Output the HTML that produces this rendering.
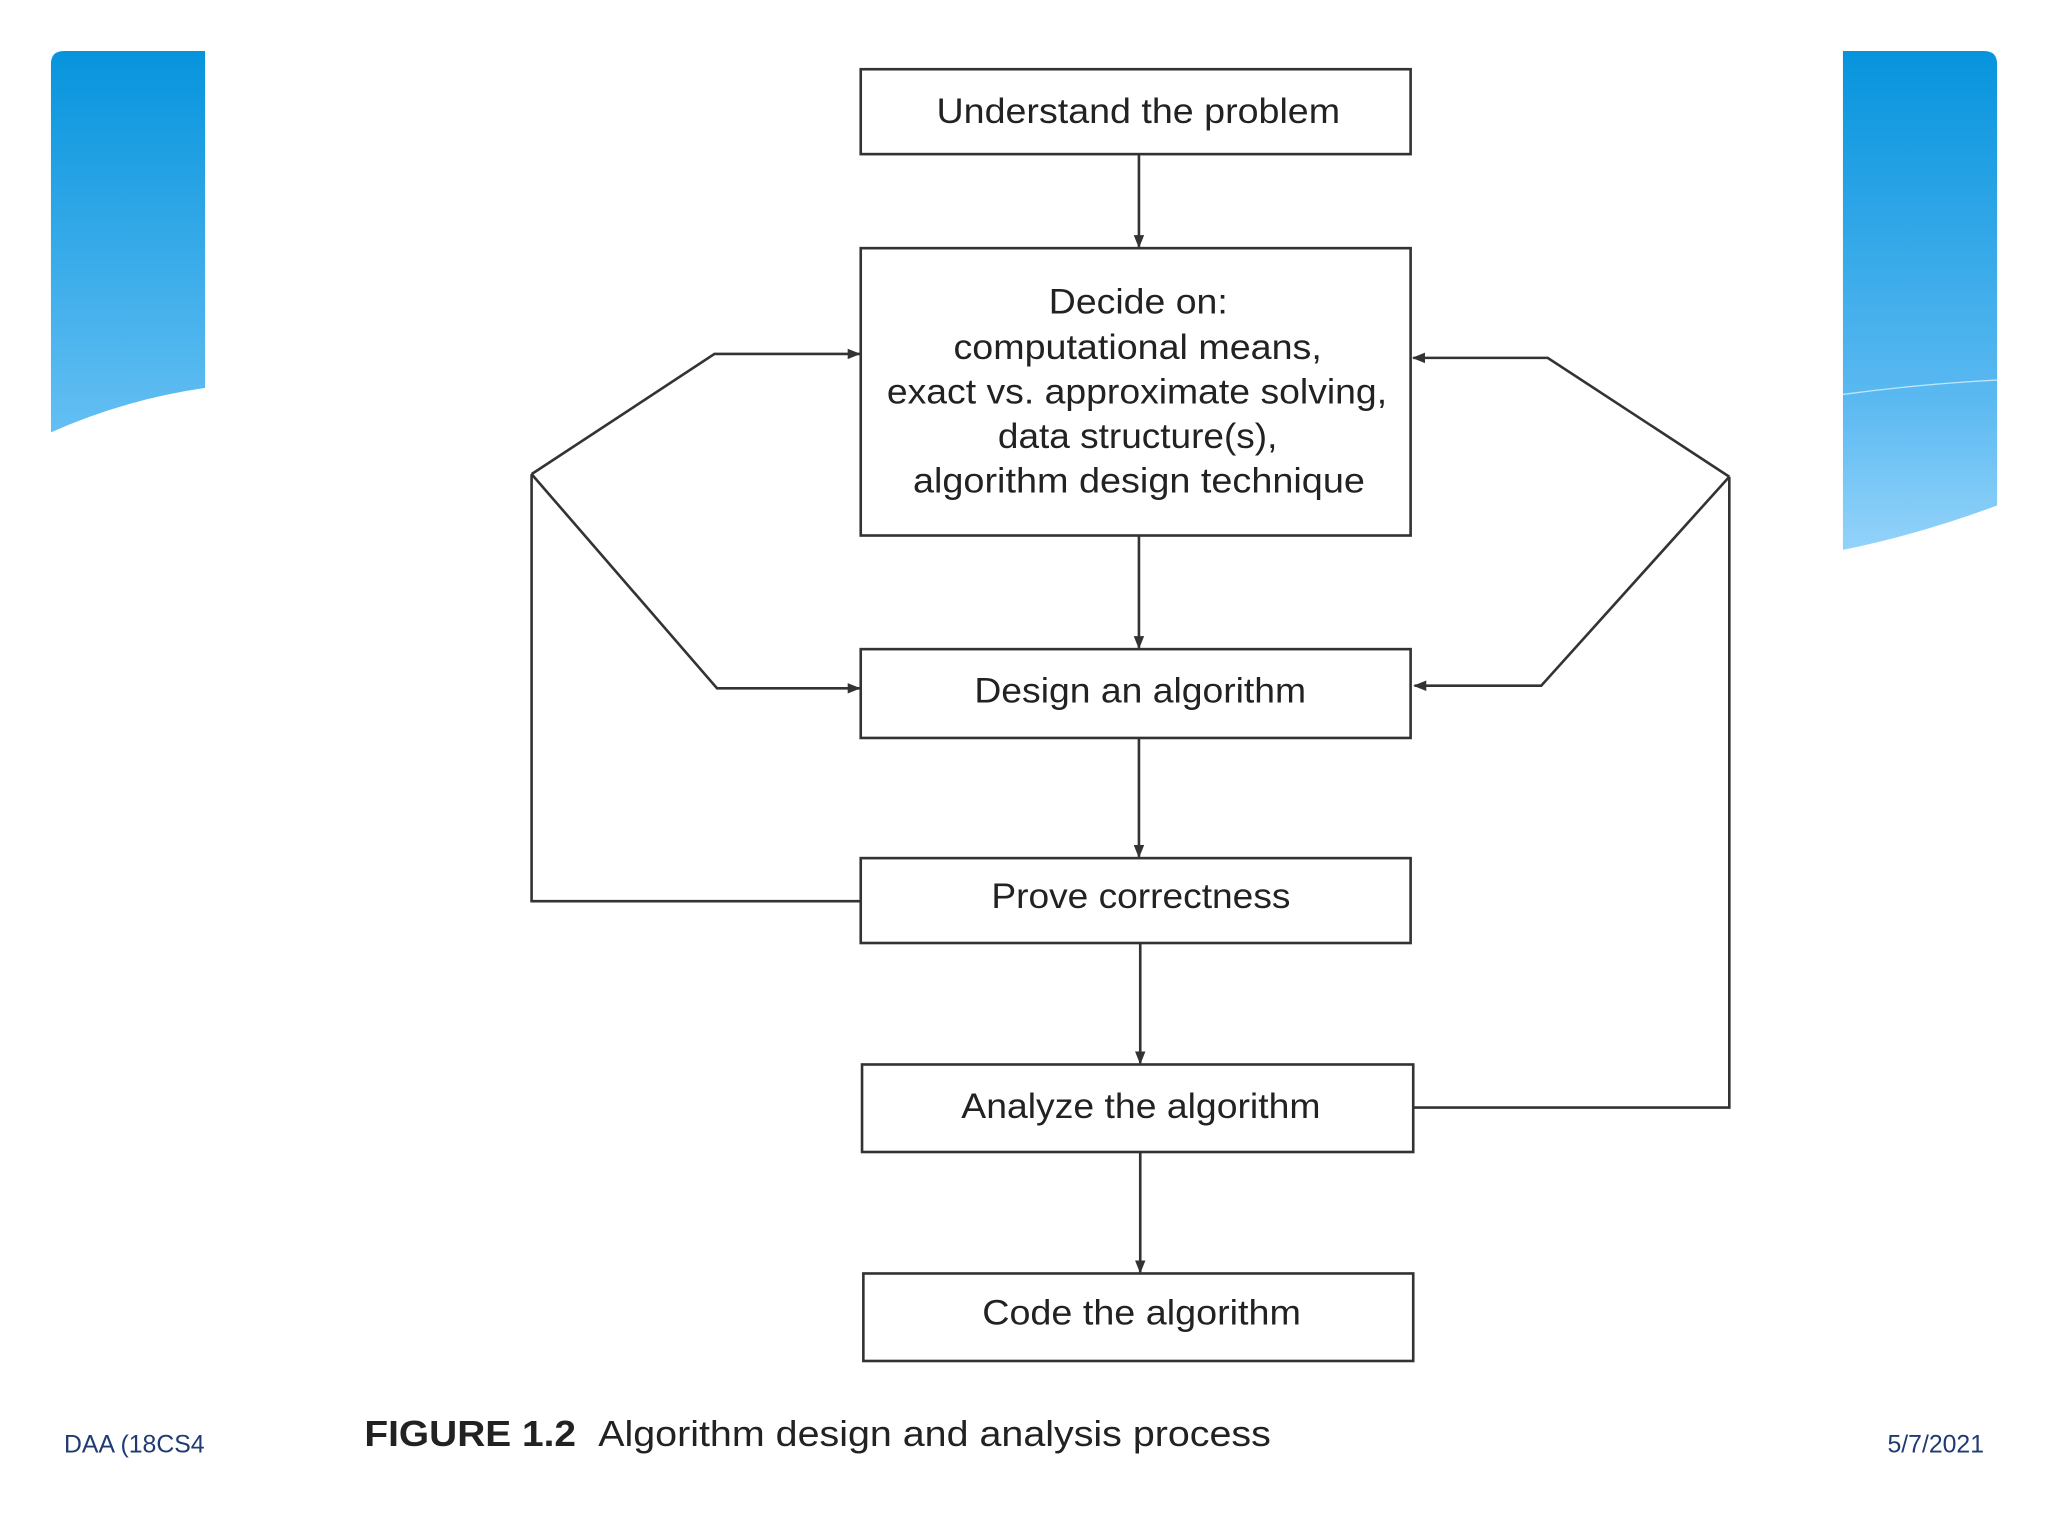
<!DOCTYPE html>
<html><head><meta charset="utf-8"><style>
html,body{margin:0;padding:0;background:#fff;}
svg{display:block;}
</style></head><body>
<svg width="2048" height="1536" viewBox="0 0 1568 1176" xmlns="http://www.w3.org/2000/svg">
<defs>
<linearGradient id="g" x1="0" y1="0" x2="0" y2="1">
<stop offset="0" stop-color="#0694dd"/><stop offset="1" stop-color="#64bff3"/>
</linearGradient>
<linearGradient id="g2" x1="0" y1="0" x2="0" y2="1">
<stop offset="0" stop-color="#0694dd"/><stop offset="0.7" stop-color="#5bb9f1"/><stop offset="1" stop-color="#93d3fa"/>
</linearGradient>
<marker id="a" markerWidth="10" markerHeight="10" refX="9" refY="5" orient="auto" markerUnits="userSpaceOnUse">
<path d="M0,1 L10,5 L0,9 Z" fill="#333"/>
</marker>
</defs>
<rect width="1568" height="1176" fill="#fff"/>
<path d="M39,49 Q39,39 49,39 L157,39 L157,297 Q95,306 39,331 Z" fill="url(#g)"/>
<path d="M1411,39 L1519,39 Q1529,39 1529,49 L1529,387 Q1470,409 1411,421 Z" fill="url(#g2)"/>
<path d="M1411,302 Q1470,294 1529,291" stroke="#bfe6fb" stroke-width="1" fill="none"/>
<g fill="none" stroke="#333" stroke-width="2">
<rect x="659" y="53" width="421" height="65"/>
<rect x="659" y="190" width="421" height="220"/>
<rect x="659" y="497" width="421" height="68"/>
<rect x="659" y="657" width="421" height="65"/>
<rect x="660" y="815" width="422" height="67"/>
<rect x="661" y="975" width="421" height="67"/>
<path d="M872,118 V189" marker-end="url(#a)"/>
<path d="M872,410 V496" marker-end="url(#a)"/>
<path d="M872,565 V656" marker-end="url(#a)"/>
<path d="M873,722 V814" marker-end="url(#a)"/>
<path d="M873,882 V974" marker-end="url(#a)"/>
<path d="M659,690 H407 V363"/>
<path d="M407,363 L547,271 H658" marker-end="url(#a)"/>
<path d="M407,363 L549,527 H658" marker-end="url(#a)"/>
<path d="M1082,848 H1324 V365"/>
<path d="M1324,365 L1185,274 H1082" marker-end="url(#a)"/>
<path d="M1324,365 L1180,525 H1083" marker-end="url(#a)"/>
</g>
<g font-family="Liberation Sans, sans-serif" font-size="27" fill="#222" lengthAdjust="spacingAndGlyphs">
<text x="717" y="94" textLength="309" lengthAdjust="spacingAndGlyphs">Understand the problem</text>
<text x="803" y="240" textLength="137" lengthAdjust="spacingAndGlyphs">Decide on:</text>
<text x="730" y="275" textLength="282" lengthAdjust="spacingAndGlyphs">computational means,</text>
<text x="679" y="309" textLength="383" lengthAdjust="spacingAndGlyphs">exact vs. approximate solving,</text>
<text x="764" y="343" textLength="214" lengthAdjust="spacingAndGlyphs">data structure(s),</text>
<text x="699" y="377" textLength="346" lengthAdjust="spacingAndGlyphs">algorithm design technique</text>
<text x="746" y="538" textLength="254" lengthAdjust="spacingAndGlyphs">Design an algorithm</text>
<text x="759" y="695" textLength="229" lengthAdjust="spacingAndGlyphs">Prove correctness</text>
<text x="736" y="856" textLength="275" lengthAdjust="spacingAndGlyphs">Analyze the algorithm</text>
<text x="752" y="1014" textLength="244" lengthAdjust="spacingAndGlyphs">Code the algorithm</text>
</g>
<g font-family="Liberation Sans, sans-serif" font-size="28" fill="#222">
<text x="279" y="1107" font-weight="bold" textLength="162" lengthAdjust="spacingAndGlyphs">FIGURE 1.2</text>
<text x="458" y="1107" textLength="515" lengthAdjust="spacingAndGlyphs">Algorithm design and analysis process</text>
</g>
<text x="49" y="1112" font-family="Liberation Sans, sans-serif" font-size="19" fill="#1f3b73">DAA (18CS4</text>
<text x="1519" y="1112" font-family="Liberation Sans, sans-serif" font-size="19" fill="#1f3b73" text-anchor="end">5/7/2021</text>
</svg>
</body></html>
